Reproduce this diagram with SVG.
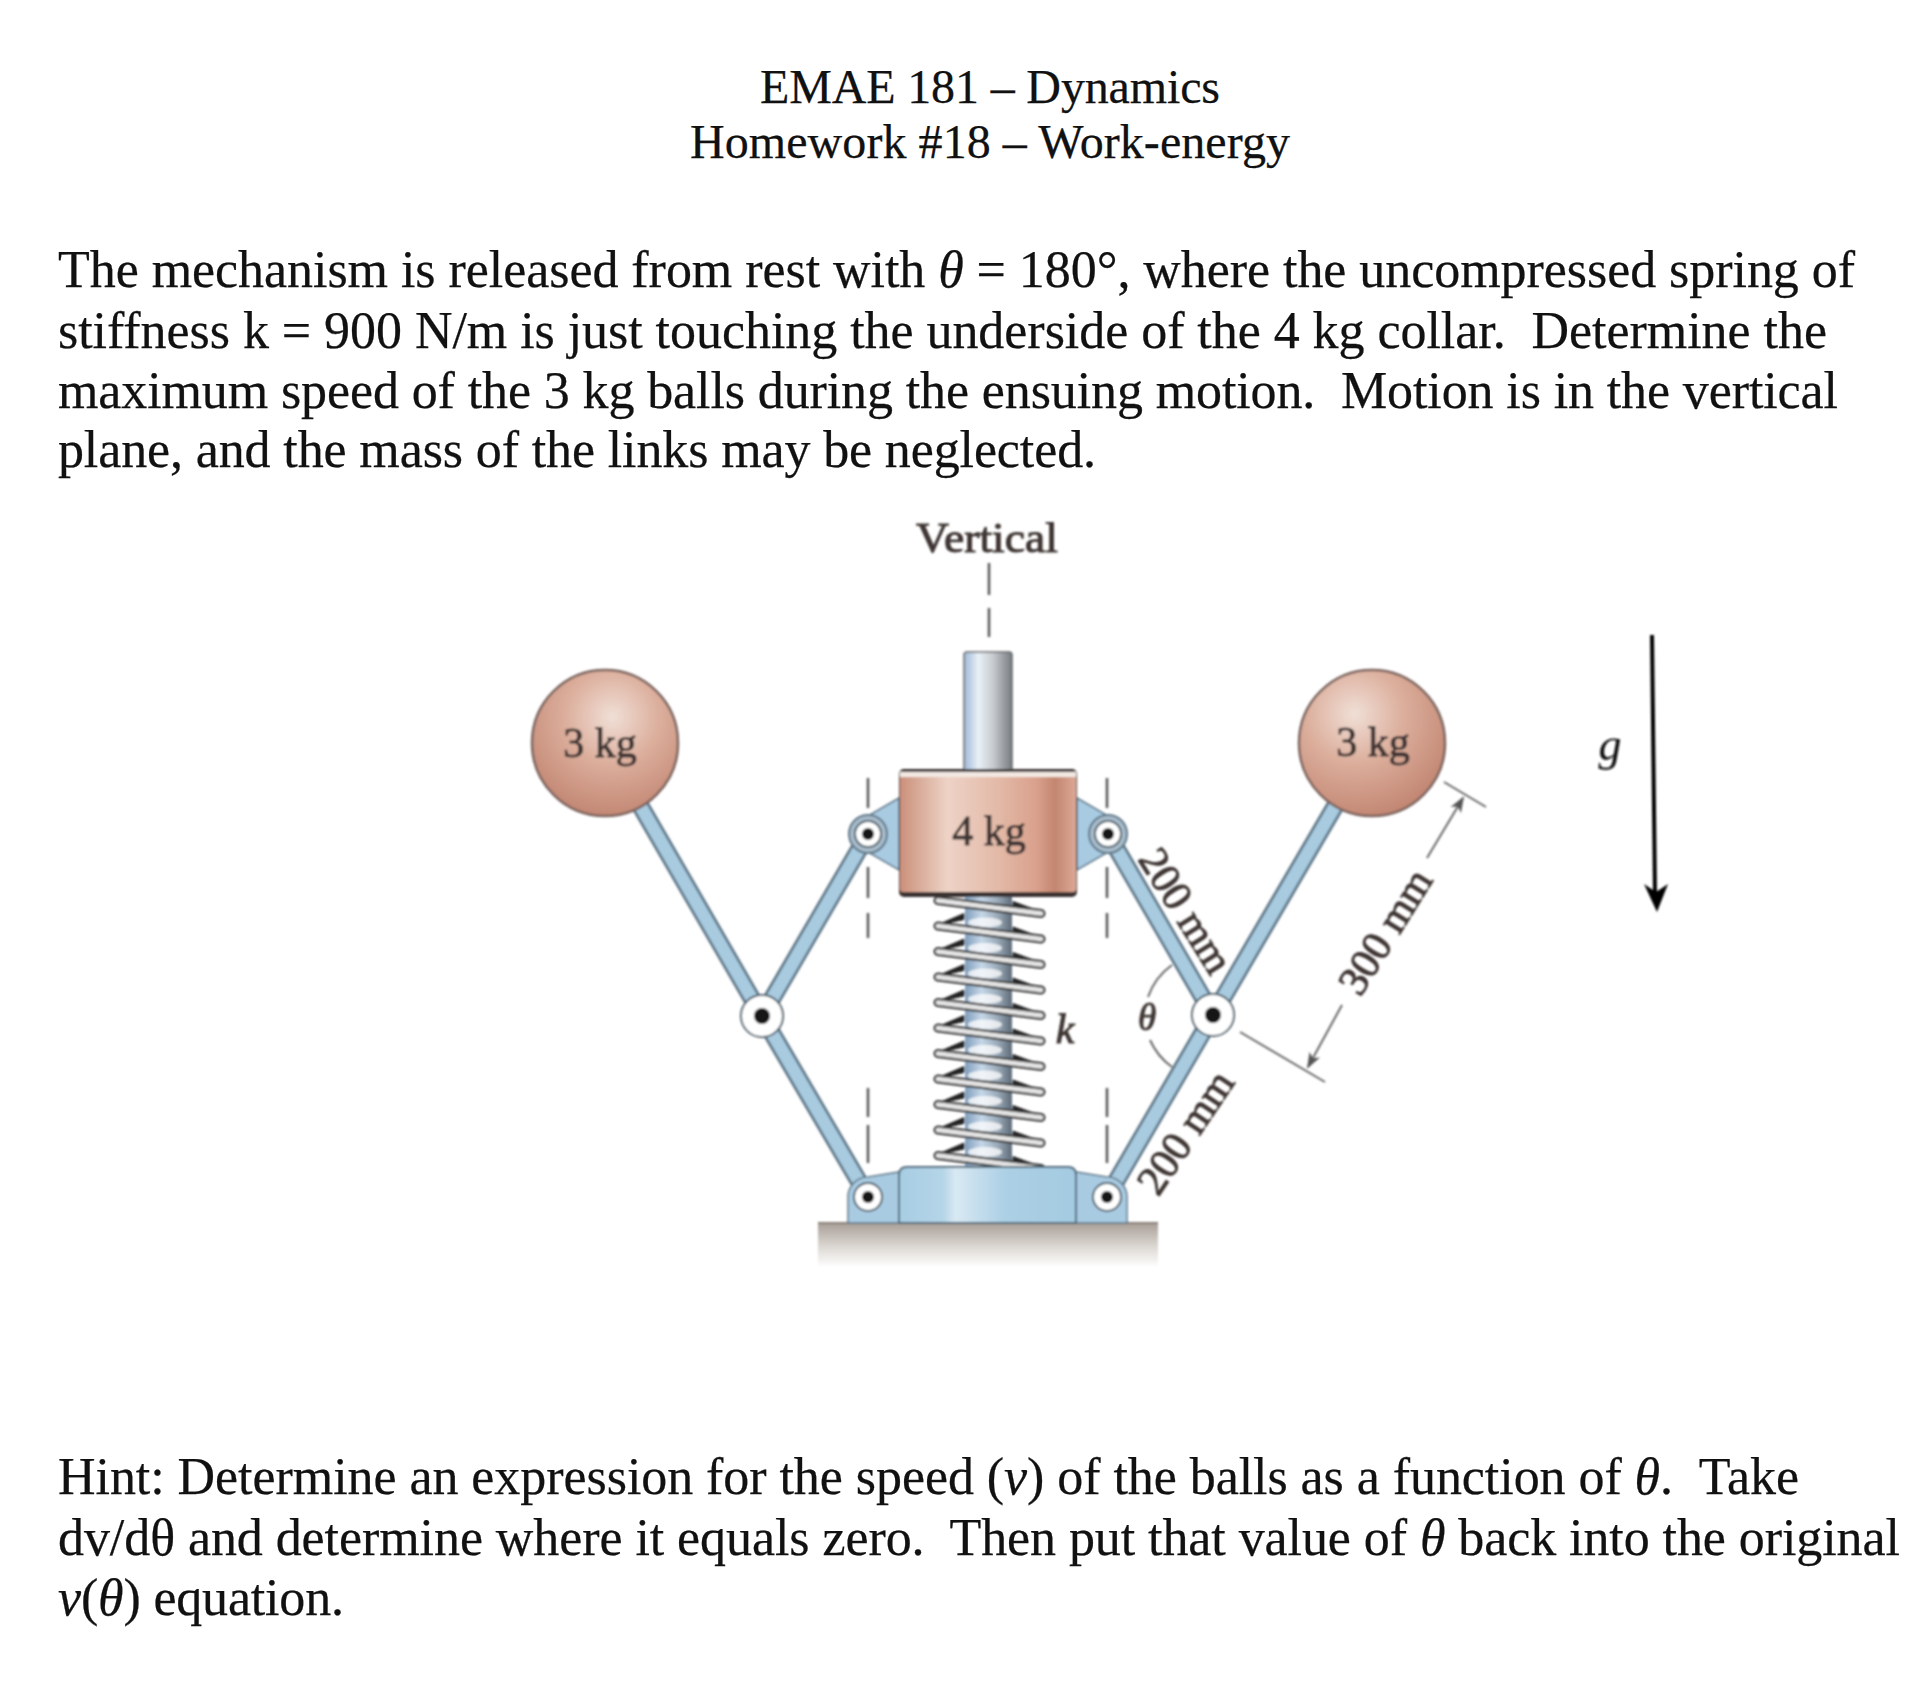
<svg xmlns="http://www.w3.org/2000/svg" xmlns:xlink="http://www.w3.org/1999/xlink" width="1930" height="1682" viewBox="0 0 1930 1682">
<style>
text{font-family:"Liberation Serif","Times New Roman",serif;white-space:pre}
.body{font-size:52px;fill:#111;stroke:#111;stroke-width:.25}
.title{font-size:48px;fill:#111;stroke:#111;stroke-width:.25}
.lab{font-size:42px;fill:#3f3634;stroke:#3f3634;stroke-width:1}
.it{font-style:italic}
.linkO{stroke:#5d7687;stroke-width:18;fill:none}
.linkI{stroke:#a9cbe0;stroke-width:12.5;fill:none}
.dash{stroke:#555;stroke-width:2.5;fill:none}
.thin{stroke:#666;stroke-width:2;fill:none}
.brk{fill:#a9cbe2;stroke:#60788a;stroke-width:1.5}
.ball{stroke:#7a635d;stroke-width:2.5}
.ringB{fill:#a8bccb;stroke:#5d7687;stroke-width:2}
.ring{fill:#fff;stroke:#4c5d68;stroke-width:2}
.dot{fill:#151515}
</style>
<defs>
<radialGradient id="ballL" cx=".55" cy=".32" r=".72"><stop offset="0" stop-color="#f0dfd6"/><stop offset=".45" stop-color="#dcae9c"/><stop offset="1" stop-color="#c08470"/></radialGradient>
<radialGradient id="ballR" cx=".38" cy=".3" r=".75"><stop offset="0" stop-color="#f0dfd6"/><stop offset=".45" stop-color="#dcae9c"/><stop offset="1" stop-color="#c08470"/></radialGradient>
<linearGradient id="collar"><stop offset="0" stop-color="#cb907b"/><stop offset=".27" stop-color="#edd3c6"/><stop offset=".55" stop-color="#e3baa8"/><stop offset=".78" stop-color="#d9a08c"/><stop offset=".88" stop-color="#c38670"/><stop offset="1" stop-color="#dba996"/></linearGradient>
<linearGradient id="rod"><stop offset="0" stop-color="#9fb8d6"/><stop offset=".3" stop-color="#e9f0f7"/><stop offset=".6" stop-color="#c8ccd0"/><stop offset="1" stop-color="#767c82"/></linearGradient>
<linearGradient id="rodLow"><stop offset="0" stop-color="#7f9cba"/><stop offset=".35" stop-color="#c5d7e8"/><stop offset=".7" stop-color="#9aa9b8"/><stop offset="1" stop-color="#5d6b78"/></linearGradient>
<linearGradient id="base"><stop offset="0" stop-color="#a7cde3"/><stop offset=".25" stop-color="#b5d5e8"/><stop offset=".32" stop-color="#d9e9f3"/><stop offset=".6" stop-color="#acd0e5"/><stop offset="1" stop-color="#a4cbe1"/></linearGradient>
<linearGradient id="ground" x2="0" y2="1"><stop offset="0" stop-color="#a89f97"/><stop offset=".5" stop-color="#d9d4cf"/><stop offset="1" stop-color="#fff"/></linearGradient>
<filter id="soft" x="-5%" y="-5%" width="110%" height="110%"><feGaussianBlur stdDeviation=".8"/></filter>
<marker id="hd" markerWidth="16" markerHeight="14" refX="14" refY="7" orient="auto" markerUnits="userSpaceOnUse" viewBox="0 0 16 14"><path d="M0 1 L16 7 L0 13 L4 7Z" fill="#555"/></marker>
<g id="back"><path d="M1013 2L1013 8L1043 13ZM964 14L964 20L936 26Z" fill="#222" stroke="#222" stroke-width="1"/></g>
<g id="front">
<ellipse cx="985" cy="23" rx="17" ry="5" fill="#fff" opacity=".75"/>
<path d="M938 1L1041 14" fill="none" stroke="#3a3a3a" stroke-width="9" stroke-linecap="round"/>
<path d="M938 1L1041 14" fill="none" stroke="#e6e6e6" stroke-width="4.5" stroke-linecap="round"/>
</g>
</defs>

<g id="heading">
<text class="title" x="760" y="103" textLength="460">EMAE 181 – Dynamics</text>
<text class="title" x="690" y="158" textLength="600">Homework #18 – Work-energy</text>
</g>
<g id="problem">
<text class="body" x="58" y="287" textLength="1797">The mechanism is released from rest with <tspan class="it">θ</tspan> = 180°, where the uncompressed spring of</text>
<text class="body" x="58" y="348" textLength="1769">stiffness k = 900 N/m is just touching the underside of the 4 kg collar.  Determine the</text>
<text class="body" x="58" y="408" textLength="1780">maximum speed of the 3 kg balls during the ensuing motion.  Motion is in the vertical</text>
<text class="body" x="58" y="467" textLength="1038">plane, and the mass of the links may be neglected.</text>
</g>
<g id="hint">
<text class="body" x="58" y="1494" textLength="1741">Hint: Determine an expression for the speed (<tspan class="it">v</tspan>) of the balls as a function of <tspan class="it">θ</tspan>.  Take</text>
<text class="body" x="58" y="1555" textLength="1842">dv/dθ and determine where it equals zero.  Then put that value of <tspan class="it">θ</tspan> back into the original</text>
<text class="body" x="58" y="1615" textLength="286"><tspan class="it">v</tspan>(<tspan class="it">θ</tspan>) equation.</text>
</g>

<g id="illustration" filter="url(#soft)">
<g id="connectors">
<path class="dash" d="M989 563V595M989 608V637"/>
<path class="dash" d="M868 778V808M868 867V898M868 913V938M868 1088V1117M868 1125V1163"/>
<path class="dash" d="M1107 778V808M1107 867V898M1107 913V938M1107 1088V1117M1107 1125V1163"/>
<path class="linkO" d="M604 743L762 1016L868 1197M868 834L762 1016"/>
<path class="linkI" d="M604 743L762 1016L868 1197M868 834L762 1016"/>
<path class="linkO" d="M1372 743L1213 1015L1107 1197M1108 834L1213 1015"/>
<path class="linkI" d="M1372 743L1213 1015L1107 1197M1108 834L1213 1015"/>
<path class="thin" d="M1172 965A66 66 0 0 0 1148 997M1150 1040A66 66 0 0 0 1172 1067"/>
<path class="thin" d="M1444 782L1486 807M1240 1032L1325 1082"/>
<path class="thin" d="M1427 858L1463 798" marker-end="url(#hd)"/>
<path class="thin" d="M1342 1005L1308 1067" marker-end="url(#hd)"/>
<path d="M1652 635L1655 895" stroke="#000" stroke-width="4" fill="none"/>
<path d="M1644 884L1656 892L1668 884L1657 912Z" fill="#000"/>
</g>

<g id="rod"><rect x="964" y="652" width="48" height="120" rx="3" fill="url(#rod)" stroke="#666" stroke-width="1.5"/></g>
<g id="spring">
<use xlink:href="#back" y="899.5"/><use xlink:href="#back" y="925"/><use xlink:href="#back" y="950.5"/><use xlink:href="#back" y="976"/><use xlink:href="#back" y="1001.5"/><use xlink:href="#back" y="1027"/><use xlink:href="#back" y="1052.5"/><use xlink:href="#back" y="1078"/><use xlink:href="#back" y="1103.5"/><use xlink:href="#back" y="1129"/><use xlink:href="#back" y="1154.5"/>
<rect x="965" y="895" width="47" height="275" fill="url(#rodLow)"/>
<use xlink:href="#front" y="899.5"/><use xlink:href="#front" y="925"/><use xlink:href="#front" y="950.5"/><use xlink:href="#front" y="976"/><use xlink:href="#front" y="1001.5"/><use xlink:href="#front" y="1027"/><use xlink:href="#front" y="1052.5"/><use xlink:href="#front" y="1078"/><use xlink:href="#front" y="1103.5"/><use xlink:href="#front" y="1129"/><use xlink:href="#front" y="1154.5"/>
</g>
<g id="ground"><rect x="818" y="1223" width="340" height="44" fill="url(#ground)"/><path d="M818 1223H1158" stroke="#8a8178" stroke-width="2"/></g>
<g id="base">
<path class="brk" d="M848 1223V1197A20 20 0 0 1 868 1177L899 1172V1223Z"/>
<path class="brk" d="M1127 1223V1197A20 20 0 0 0 1107 1177L1076 1172V1223Z"/>
<path d="M899 1223V1175Q899 1167 907 1167H1068Q1076 1167 1076 1175V1223Z" fill="url(#base)" stroke="#4f6878" stroke-width="2"/>
<circle class="ring" cx="868" cy="1197" r="14"/><circle class="dot" cx="868" cy="1197" r="6"/>
<circle class="ring" cx="1107" cy="1197" r="14"/><circle class="dot" cx="1107" cy="1197" r="6"/>
</g>
<g id="collar-node">
<path class="brk" d="M899 798L868 816V852L899 870Z"/>
<path class="brk" d="M1077 798L1108 816V852L1077 870Z"/>
<circle class="ringB" cx="868" cy="834" r="19"/><circle class="ring" cx="868" cy="834" r="13"/><circle class="dot" cx="868" cy="834" r="6"/>
<circle class="ringB" cx="1108" cy="834" r="19"/><circle class="ring" cx="1108" cy="834" r="13"/><circle class="dot" cx="1108" cy="834" r="6"/>
<rect x="899" y="769" width="178" height="128" rx="5" fill="#3a3230"/>
<rect x="900" y="772" width="176" height="120" rx="3" fill="url(#collar)"/>
<rect x="900" y="772" width="176" height="5" fill="#f3e9e3"/>
<text class="lab" x="989" y="845" text-anchor="middle">4 kg</text>
</g>
<g id="pin-left"><circle class="ring" cx="762" cy="1016" r="21"/><circle class="dot" cx="762" cy="1016" r="8"/></g>
<g id="pin-right"><circle class="ring" cx="1213" cy="1015" r="21"/><circle class="dot" cx="1213" cy="1015" r="8"/></g>
<g id="ball-left"><circle class="ball" cx="605" cy="743" r="73" fill="url(#ballL)"/><text class="lab" x="600" y="757" text-anchor="middle">3 kg</text></g>
<g id="ball-right"><circle class="ball" cx="1372" cy="743" r="73" fill="url(#ballR)"/><text class="lab" x="1373" y="756" text-anchor="middle">3 kg</text></g>
<g id="labels">
<text class="lab" x="916" y="552" textLength="142" lengthAdjust="spacingAndGlyphs">Vertical</text>
<text class="lab it" x="1065" y="1043" text-anchor="middle">k</text>
<text class="lab it" x="1147" y="1030" text-anchor="middle" style="font-size:37px">θ</text>
<text class="lab" x="0" y="0" text-anchor="middle" transform="translate(1174 918) rotate(58)">200 mm</text>
<text class="lab" x="0" y="0" text-anchor="middle" transform="translate(1197 1140) rotate(-56)">200 mm</text>
<text class="lab" x="0" y="0" text-anchor="middle" transform="translate(1397 939) rotate(-58)">300 mm</text>
<text class="it" x="1610" y="760" text-anchor="middle" style="fill:#111;font-size:46px">g</text>
</g>
</g>
</svg>
